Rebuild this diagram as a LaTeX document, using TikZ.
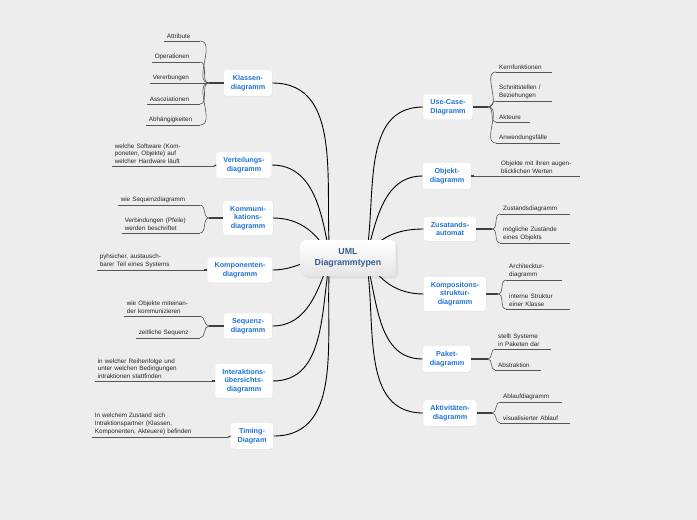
\documentclass[tikz,border=0pt]{standalone}
\usepackage{fontspec}
\setmainfont{Liberation Sans}
\usetikzlibrary{shadows,backgrounds}
\definecolor{bg}{HTML}{EDEDED}
\definecolor{blu}{HTML}{1F74D6}
\definecolor{ctext}{HTML}{3A5C8E}
\definecolor{lgray}{HTML}{555555}
\tikzset{
 branch/.style={fill=white,rounded corners=3pt,draw=none,align=center,text=blu,font=\fontsize{7.2}{8.8}\selectfont\bfseries,inner xsep=7pt,inner ysep=5pt,drop shadow={opacity=0.12,shadow xshift=0.5pt,shadow yshift=-0.5pt}},
 centre/.style={rounded corners=5pt,top color=white,bottom color=black!10,align=center,text=ctext,font=\fontsize{8.8}{10.5}\selectfont\bfseries,minimum width=95pt,minimum height=36pt,drop shadow={opacity=0.12}},
 leafnode/.style={font=\fontsize{6.3}{7.8}\selectfont,text=black!85,align=left,inner xsep=3pt,inner ysep=2pt},
 uline/.style={draw=lgray,line width=0.6pt},
 conn/.style={draw=black,line width=0.9pt},
 stub/.style={draw=black!75,line width=1.2pt},
 fork/.style={draw=lgray,line width=0.6pt},
}
\newcommand{\leafL}[5]{\node[leafnode,anchor=south east,text width=#4] (#1) at (#2,#3) {#5};
 \draw[uline] (#1.south west) -- (#1.south east);}
\newcommand{\leafR}[5]{\node[leafnode,anchor=south west,text width=#4] (#1) at (#2,#3) {#5};
 \draw[uline] (#1.south west) -- (#1.south east);}
\begin{document}
\begin{tikzpicture}[x=1pt,y=-1pt]
\useasboundingbox (0,0) rectangle (697,520);
% branch nodes left
\node[branch] (kl) at (248,83) {Klassen-\\diagramm};
\node[branch] (ve) at (244,165) {Verteilungs-\\diagramm};
\node[branch] (ko) at (248,218) {Kommuni-\\kations-\\diagramm};
\node[branch] (kp) at (240,270) {Komponenten-\\diagramm};
\node[branch] (se) at (248,326) {Sequenz-\\diagramm};
\node[branch] (in) at (244,381) {Interaktions-\\übersichts-\\diagramm};
\node[branch] (ti) at (252,436) {Timing-\\Diagram};
% right
\node[branch] (uc) at (448,107) {Use-Case-\\Diagramm};
\node[branch] (ob) at (447,176) {Objekt-\\diagramm};
\node[branch] (za) at (450,229) {Zusatands-\\automat};
\node[branch] (ks) at (455,294) {Kompositons-\\struktur-\\diagramm};
\node[branch] (pa) at (447,359) {Paket-\\diagramm};
\node[branch] (ak) at (450,413) {Aktivitäten-\\diagramm};
% centre connectors
\coordinate (cl) at (330,258);
\coordinate (cr) at (366,258);
\begin{scope}[on background layer]
\fill[bg] (0,0) rectangle (697,520);
\draw[conn] (kl.east) to[out=0,in=95] (cl);
\draw[conn] (ve.east) to[out=0,in=100] (cl);
\draw[conn] (ko.east) to[out=0,in=115] (cl);
\draw[conn] (kp.east) to[out=0,in=180] (cl);
\draw[conn] (se.east) to[out=0,in=-110] (cl);
\draw[conn] (in.east) to[out=0,in=-100] (cl);
\draw[conn] (ti.east) to[out=0,in=-95] (cl);
\draw[conn] (uc.west) to[out=180,in=80] (cr);
\draw[conn] (ob.west) to[out=180,in=75] (cr);
\draw[conn] (za.west) to[out=180,in=60] (cr);
\draw[conn] (ks.west) to[out=180,in=-60] (cr);
\draw[conn] (pa.west) to[out=180,in=-75] (cr);
\draw[conn] (ak.west) to[out=180,in=-80] (cr);
\end{scope}
\node[centre] (c) at (348,258) {UML\\Diagrammtypen};
% ---- leaves left
\coordinate (hkl) at (209,83);
\draw[stub] (kl.west) -- (hkl);
\leafL{a1}{200}{41}{30pt}{Attribute}
\leafL{a2}{200}{62}{42pt}{Operationen}
\leafL{a3}{210}{83}{54pt}{Vererbungen}
\leafL{a4}{200}{104}{47pt}{Assoziationen}
\leafL{a5}{200}{125}{48pt}{Abhängigkeiten}
\foreach \n in {a1,a2,a4,a5} \draw[fork] (hkl) to[out=180,in=0] (\n.south east);
\leafL{v1}{214}{166}{96pt}{welche Software (Kom-\\poneten, Objekte) auf\\welcher Hardware läuft}
\draw[stub] (ve.west) -- (v1.south east);
\coordinate (hko) at (209,218);
\draw[stub] (ko.west) -- (hko);
\leafL{k1}{200}{205}{76pt}{wie Sequenzdiagramm}
\leafL{k2}{200}{233}{72pt}{Verbindungen (Pfeile)\\werden beschriftet}
\foreach \n in {k1,k2} \draw[fork] (hko) to[out=180,in=0] (\n.south east);
\leafL{p1}{204}{270}{101pt}{pyhsicher, austausch-\\barer Teil eines Systems}
\draw[stub] (kp.west) -- (p1.south east);
\coordinate (hse) at (209,326);
\draw[stub] (se.west) -- (hse);
\leafL{s1}{200}{316}{70pt}{wie Objekte miteinan-\\der kommunizieren}
\leafL{s2}{200}{338}{58pt}{zeitliche Sequenz}
\foreach \n in {s1,s2} \draw[fork] (hse) to[out=180,in=0] (\n.south east);
\leafL{i1}{212}{381}{111pt}{in welcher Reihenfolge und\\unter welchen Bedingungen\\intraktionen stattfinden}
\draw[stub] (in.west) -- (i1.south east);
\leafL{t1}{228}{437}{130pt}{In welchem Zustand sich\\Intraktionspartner (Klassen,\\Komponenten, Akteuere) befinden}
\draw[stub] (ti.west) -- (t1.south east);
% ---- leaves right
\coordinate (huc) at (488,107);
\draw[stub] (uc.east) -- (huc);
\leafR{u1}{496}{72}{50pt}{Kernfunktionen}
\leafR{u2}{496}{101}{50pt}{Schnittstellen /\\Beziehungen}
\leafR{u3}{496}{122}{28pt}{Akteure}
\leafR{u4}{496}{143}{58pt}{Anwendungsfälle}
\foreach \n in {u1,u2,u3,u4} \draw[fork] (huc) to[out=0,in=180] (\n.south west);
\node[leafnode,anchor=south west,text width=100pt] (o1) at (474,176) {\hspace*{24pt}Objekte mit ihren augen-\\\hspace*{24pt}blicklichen Werten};
\draw[stub] (ob.east) -- (o1.south west);
\draw[uline] (o1.south west) -- (o1.south east);
\coordinate (hza) at (492,229);
\draw[stub] (za.east) -- (hza);
\leafR{z1}{500}{214}{64pt}{Zustandsdiagramm}
\leafR{z2}{500}{243}{64pt}{mögliche Zustände\\eines Objekts}
\foreach \n in {z1,z2} \draw[fork] (hza) to[out=0,in=180] (\n.south west);
\coordinate (hks) at (498,294);
\draw[stub] (ks.east) -- (hks);
\leafR{m1}{506}{280}{50pt}{Architecktur-\\diagramm}
\leafR{m2}{506}{309}{58pt}{interne Struktur\\einer Klasse}
\foreach \n in {m1,m2} \draw[fork] (hks) to[out=0,in=180] (\n.south west);
\coordinate (hpa) at (488,359);
\draw[stub] (pa.east) -- (hpa);
\leafR{q1}{495}{349}{50pt}{stellt Systeme\\in Paketen dar}
\leafR{q2}{495}{370}{40pt}{Abstraktion}
\foreach \n in {q1,q2} \draw[fork] (hpa) to[out=0,in=180] (\n.south west);
\coordinate (hak) at (492,413);
\draw[stub] (ak.east) -- (hak);
\leafR{r1}{500}{402}{56pt}{Ablaufdiagramm}
\leafR{r2}{500}{423}{64pt}{visualisierter Ablauf}
\foreach \n in {r1,r2} \draw[fork] (hak) to[out=0,in=180] (\n.south west);
\end{tikzpicture}
\end{document}
